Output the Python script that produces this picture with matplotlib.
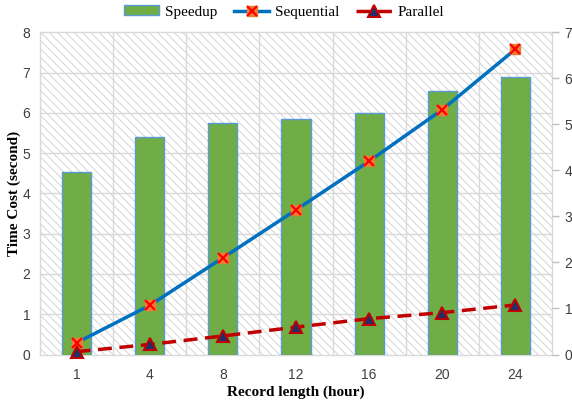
import matplotlib
matplotlib.use("Agg")
import matplotlib.pyplot as plt
from matplotlib.patches import Rectangle, Patch
from matplotlib.lines import Line2D
import matplotlib.transforms as mtransforms
import numpy as np

categories = ['1', '4', '8', '12', '16', '20', '24']
speedup = [3.96, 4.72, 5.04, 5.12, 5.25, 5.72, 6.03]
sequential = [0.29, 1.22, 2.40, 3.59, 4.80, 6.08, 7.58]
parallel = [0.07, 0.25, 0.46, 0.68, 0.89, 1.04, 1.23]
left_ticks = [0, 1, 2, 3, 4, 5, 6, 7, 8]
right_ticks = [0, 1, 2, 3, 4, 5, 6, 7]

plt.rcParams['hatch.linewidth'] = 0.7
tick_font = 'Liberation Sans'
serif = 'Liberation Serif'

fig = plt.figure(figsize=(5.72, 4.03), dpi=100)
rect = [40/572, 1-354.5/403, 512/572, 322.2/403]
axl = fig.add_axes(rect)
axb = axl.twinx()
axb.set_zorder(0)
axl.set_zorder(1)
axl.patch.set_visible(False)
axb.patch.set_visible(False)

x = np.arange(len(categories))

# hatched background
bg = Rectangle((0, 0), 1, 1, transform=axb.transAxes, facecolor='white',
               edgecolor='#d4d4d4', linewidth=0, hatch='\\\\\\\\', zorder=0)
axb.add_patch(bg)

axl.set_ylim(0, 8)
axb.set_ylim(0, 7)
axl.set_xlim(-0.5, len(categories) - 0.5)

# gridlines behind bars
blend = mtransforms.blended_transform_factory(axb.transAxes, axl.transData)
for v in left_ticks:
    axb.plot([0, 1], [v, v], transform=blend, color='#d9d9d9', lw=1.0, zorder=1,
             clip_on=False)
for b in np.arange(len(categories) + 1) - 0.5:
    axb.axvline(b, color='#d9d9d9', lw=1.0, zorder=1, clip_on=False)

axb.bar(x, speedup, width=0.4, color='#70AD47', edgecolor='#5B9BD5', linewidth=1.0, zorder=2)

axl.plot(x, sequential, color='#0070C0', lw=2.5, marker='s', ms=7, mfc='#ED7D31',
         mec='#ED7D31', zorder=3, clip_on=False)
axl.plot(x, sequential, ls='none', marker='x', ms=7, mec='#FF0000', mew=1.6, zorder=4,
         clip_on=False)
axl.plot(x, parallel, color='#C00000', lw=2.5, ls=(0, (4, 2.2)), marker='^', ms=9,
         mfc='#1F2F6B', mec='#C00000', mew=1.5, zorder=3, clip_on=False)

for s in list(axl.spines.values()) + list(axb.spines.values()):
    s.set_visible(False)

axl.set_xticks(x)
axl.set_xticklabels(categories, fontfamily=tick_font, fontsize=10, color='#404040')
axl.tick_params(axis='x', length=0, pad=10)
axl.set_yticks(left_ticks)
axl.set_yticklabels([str(v) for v in left_ticks], fontfamily=tick_font, fontsize=10,
                    color='#404040')
axl.tick_params(axis='y', length=0, pad=7)
axb.set_yticks(right_ticks)
axb.set_yticklabels([str(v) for v in right_ticks], fontfamily=tick_font, fontsize=10,
                    color='#404040')
axb.tick_params(axis='y', length=5, color='#bfbfbf', width=1, pad=4)

axl.set_ylabel('Time Cost (second)', fontfamily=serif, fontweight='bold', fontsize=11,
               labelpad=1)
axl.set_xlabel('Record length (hour)', fontfamily=serif, fontweight='bold', fontsize=11,
               labelpad=2.5)

h_speed = Patch(facecolor='#70AD47', edgecolor='#5B9BD5', linewidth=1.0)
h_seq = (Line2D([], [], color='#0070C0', lw=2.5, marker='s', ms=7, mfc='#ED7D31', mec='#ED7D31'),
         Line2D([], [], ls='none', marker='x', ms=7, mec='#FF0000', mew=1.6))
h_par = Line2D([], [], color='#C00000', lw=2.5, ls=(0, (4, 2.2)), marker='^', ms=9,
               mfc='#1F2F6B', mec='#C00000', mew=1.5)
fig.legend([h_speed, h_seq, h_par], ['Speedup', 'Sequential', 'Parallel'],
           loc='center', bbox_to_anchor=(284/572, 1-12/403), ncol=3, frameon=False,
           prop={'family': serif, 'size': 11}, handlelength=2.3, handleheight=0.6,
           columnspacing=1.1, handletextpad=0.4)

fig.savefig('out.png', dpi=100)
